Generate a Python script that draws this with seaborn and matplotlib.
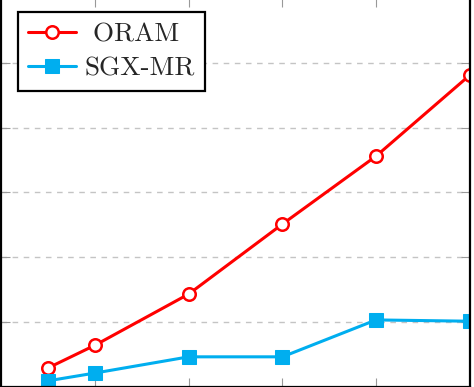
import pandas as pd
import numpy as np
import matplotlib.pyplot as plt
import seaborn as sns

# data (y in grid units)
x_vals = [1, 2, 4, 6, 8, 10]
oram = [0.29, 0.64, 1.43, 2.51, 3.56, 4.81]
sgx = [0.09, 0.21, 0.46, 0.46, 1.03, 1.01]
labels = ["ORAM", "SGX-MR"]

df = pd.DataFrame({"x": x_vals * 2,
                   "y": oram + sgx,
                   "method": [labels[0]] * 6 + [labels[1]] * 6})

sns.set_style("white")

fig = plt.figure(figsize=(4.74, 3.87), dpi=100)
ax = fig.add_axes([0.003, 0.001, 0.988, 6 * 64.75 / 387])

red = "#ff0000"
blue = "#00aeef"

sns.lineplot(data=df[df.method == labels[0]], x="x", y="y", ax=ax, color=red,
             linewidth=2.2, marker="o", markersize=9, markerfacecolor="white",
             markeredgecolor=red, markeredgewidth=1.8, label=labels[0])
sns.lineplot(data=df[df.method == labels[1]], x="x", y="y", ax=ax, color=blue,
             linewidth=2.2, marker="s", markersize=9.5, markerfacecolor=blue,
             markeredgecolor=blue, label=labels[1])

ax.set_xlim(0, 10)
ax.set_ylim(0, 6)
ax.set_xticks([2, 4, 6, 8])
ax.set_yticks([1, 2, 3, 4, 5])
ax.set_xticklabels([])
ax.set_yticklabels([])
ax.set_xlabel("")
ax.set_ylabel("")
ax.yaxis.grid(True, linestyle=(0, (4, 4)), color="#c4c4c4", linewidth=1.0)
ax.xaxis.grid(False)
ax.tick_params(direction="in", length=6.5, width=0.8, color="#999999",
               top=True, right=True, bottom=True, left=True)
for s in ax.spines.values():
    s.set_color("black")
    s.set_linewidth(1.6)

leg = ax.legend(loc="upper left", bbox_to_anchor=(0.035, 0.964),
                prop={"family": "cmr10", "size": 19.5}, frameon=True,
                fancybox=False, edgecolor="black", framealpha=1,
                handlelength=1.78, handletextpad=0.3, labelspacing=0.4,
                borderpad=0.37, borderaxespad=0)
leg.get_frame().set_linewidth(1.6)
leg.get_texts()[0].set_text(" ORAM")

fig.savefig("out.png", dpi=100)
